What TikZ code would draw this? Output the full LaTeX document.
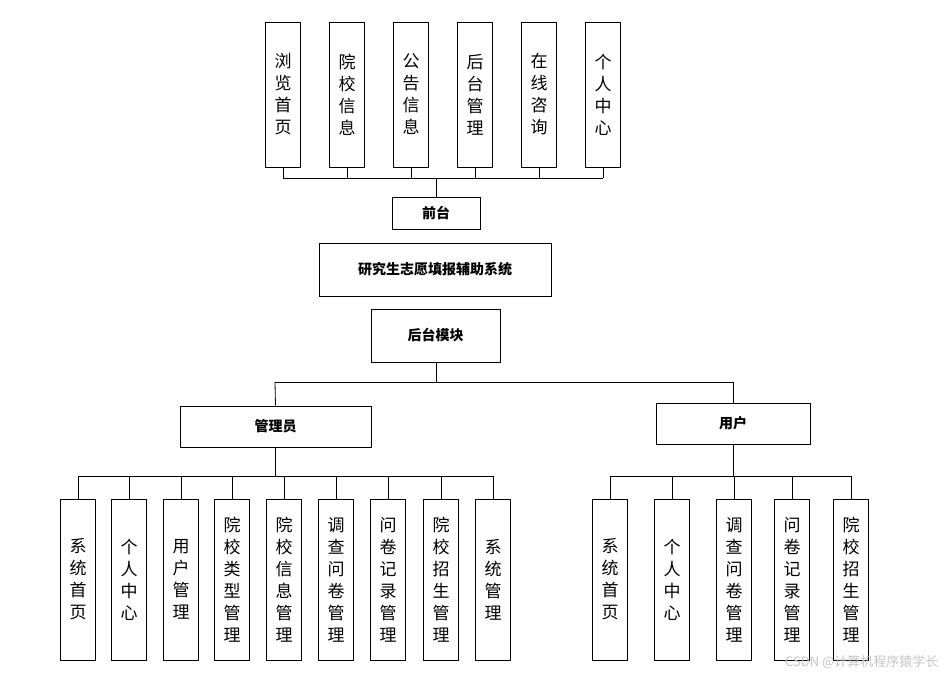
\documentclass[tikz,border=0pt]{standalone}
\usepackage{fontspec}
\setmainfont{Noto Sans CJK SC}
\usetikzlibrary{positioning}
\tikzset{
  vbox/.style={draw,thick,minimum width=35pt,minimum height=161pt,align=center,font=\fontsize{17}{22}\selectfont,inner sep=1pt},
  hbox/.style={draw,thick,align=center,font=\bfseries\fontsize{14}{16}\selectfont},
  link/.style={thick}
}
\begin{document}
\begin{tikzpicture}[x=1pt,y=-1pt]
\useasboundingbox[fill=white] (0,0) rectangle (946,677);

% Front modules
\foreach \x/\t [count=\i] in {283/浏\\览\\首\\页,347/院\\校\\信\\息,411/公\\告\\信\\息,475/后\\台\\管\\理,539/在\\线\\咨\\询,603/个\\人\\中\\心}{
  \node[vbox,minimum height=145pt] (f\i) at (\x,94.5) {\t};
  \draw[link] (f\i.south) -- (\x,178);
}
\draw[link] (283,178) -- (603,178);

% Core
\node[hbox,minimum width=88pt,minimum height=32pt] (front) at (436,213) {前台};
\node[hbox,minimum width=232pt,minimum height=53pt] (sys) at (435,269.5) {研究生志愿填报辅助系统};
\node[hbox,minimum width=129pt,minimum height=53pt] (back) at (435.5,335.5) {后台模块};
\draw[link] (436,178) -- (front.north);
\coordinate (bj) at (436,382);
\draw[link] (back.south -| bj) -- (bj);
\draw[link] (275,382) -- (733,382);

% Roles
\node[hbox,minimum width=191pt,minimum height=41pt] (admin) at (275.5,426.5) {管理员};
\node[hbox,minimum width=154pt,minimum height=41pt] (user) at (733,423.5) {用户};
\draw[link] (275,382) -- (admin.north);
\draw[link] (733,382) -- (user.north);
\draw[link] (admin.south) -- (275.5,476);
\draw[link] (user.south) -- (733,476);

% Admin modules
\foreach \x/\t [count=\i] in {78/系\\统\\首\\页,129/个\\人\\中\\心,181/用\\户\\管\\理,232/院\\校\\类\\型\\管\\理,284/院\\校\\信\\息\\管\\理,336/调\\查\\问\\卷\\管\\理,388/问\\卷\\记\\录\\管\\理,441/院\\校\\招\\生\\管\\理,493/系\\统\\管\\理}{
  \node[vbox] (a\i) at (\x,579.5) {\t};
  \draw[link] (\x,476) -- (a\i.north);
}
\draw[link] (78,476) -- (493,476);

% User modules
\foreach \x/\t [count=\i] in {610/系\\统\\首\\页,672/个\\人\\中\\心,734/调\\查\\问\\卷\\管\\理,792/问\\卷\\记\\录\\管\\理,851/院\\校\\招\\生\\管\\理}{
  \node[vbox] (u\i) at (\x,579.5) {\t};
  \draw[link] (\x,476) -- (u\i.north);
}
\draw[link] (610,476) -- (851,476);

\node[text=gray!45,font=\fontsize{13}{15}\selectfont,anchor=east] (mark) at (942,662) {CSDN @计算机程序猿学长};
\end{tikzpicture}
\end{document}
